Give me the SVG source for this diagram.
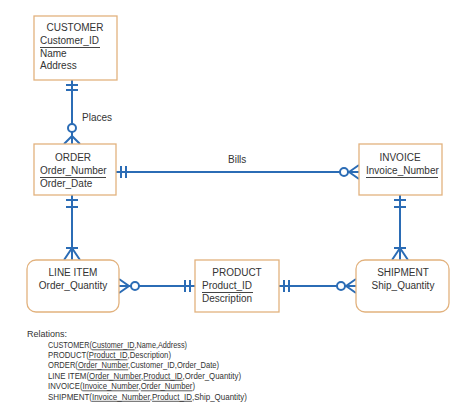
<svg xmlns="http://www.w3.org/2000/svg" width="474" height="418" viewBox="0 0 474 418">
<style>
.box{fill:#fff;stroke:#e2b27e;stroke-width:1.3}
.t{font-family:"Liberation Sans",Arial,sans-serif;font-size:10px;fill:#333}
.c{text-anchor:middle}
.ul{stroke:#444;stroke-width:1}
.ru{stroke:#333;stroke-width:0.8}
.ln{stroke:#2b6cb5;stroke-width:2;fill:none}
.o{fill:#fff;stroke:#2b6cb5;stroke-width:2}
.r{font-family:"Liberation Sans",Arial,sans-serif;font-size:9px;fill:#333}
</style>
<rect width="474" height="418" fill="#fff"/>
<g id="connectors">
<path class="ln" d="M72 80V144M66 85H78M66 90H78M72 136L64 144M72 136L80 144"/>
<circle class="o" cx="72" cy="128" r="4"/>
<text class="t" x="82" y="121">Places</text>
<path class="ln" d="M116 172H359M121 166V178M126 166V178M349 172L359 165M349 172L359 179"/>
<circle class="o" cx="344" cy="172" r="4"/>
<text class="t" x="228" y="163">Bills</text>
<path class="ln" d="M72 195V260M66 200H78M66 207H78M66 248H78M72 248L64 260M72 248L80 260"/>
<path class="ln" d="M400 195V260M394 200H406M394 207H406M394 248H406M400 248L392 260M400 248L408 260"/>
<path class="ln" d="M119 286H195M119 279L129 286L119 293M185 280V292M190 280V292"/>
<circle class="o" cx="135" cy="286" r="4"/>
<path class="ln" d="M279 286H356M284 280V292M289 280V292M346 286L356 279M346 286L356 293"/>
<circle class="o" cx="341" cy="286" r="4"/>
</g>
<g id="customer">
<rect class="box" x="34" y="16" width="83" height="64"/>
<text class="t c" x="75" y="31">CUSTOMER</text>
<text class="t" x="40" y="44">Customer_ID</text>
<line class="ul" x1="40" y1="47.5" x2="100" y2="47.5"/>
<text class="t" x="40" y="57">Name</text>
<text class="t" x="40" y="69">Address</text>
</g>
<g id="order">
<rect class="box" x="34" y="144" width="82" height="51"/>
<text class="t c" x="73" y="161">ORDER</text>
<text class="t" x="40" y="174">Order_Number</text>
<line class="ul" x1="40" y1="177.5" x2="106" y2="177.5"/>
<text class="t" x="40" y="187">Order_Date</text>
</g>
<g id="invoice">
<rect class="box" x="359" y="144" width="83" height="51"/>
<text class="t c" x="400" y="161">INVOICE</text>
<text class="t" x="366" y="174">Invoice_Number</text>
<line class="ul" x1="366" y1="177.5" x2="438" y2="177.5"/>
</g>
<g id="lineitem">
<rect class="box" x="27" y="260" width="92" height="52" rx="9"/>
<text class="t c" x="73" y="276">LINE ITEM</text>
<text class="t c" x="73" y="289">Order_Quantity</text>
</g>
<g id="product">
<rect class="box" x="195" y="260" width="84" height="52"/>
<text class="t c" x="237" y="276">PRODUCT</text>
<text class="t" x="202" y="289">Product_ID</text>
<line class="ul" x1="202" y1="292.5" x2="253" y2="292.5"/>
<text class="t" x="202" y="302">Description</text>
</g>
<g id="shipment">
<rect class="box" x="356" y="260" width="93" height="52" rx="9"/>
<text class="t c" x="403" y="276">SHIPMENT</text>
<text class="t c" x="403" y="289">Ship_Quantity</text>
</g>
<g id="relations">
<text class="r" x="27" y="337" font-size="8px">Relations:</text>
<text class="r" x="48" y="348" textLength="139" lengthAdjust="spacingAndGlyphs">CUSTOMER(Customer_ID,Name,Address)</text>
<text class="r" x="48" y="358" textLength="123" lengthAdjust="spacingAndGlyphs">PRODUCT(Product_ID,Description)</text>
<text class="r" x="48" y="368" textLength="171" lengthAdjust="spacingAndGlyphs">ORDER(Order_Number,Customer_ID,Order_Date)</text>
<text class="r" x="48" y="378.5" textLength="193" lengthAdjust="spacingAndGlyphs">LINE ITEM(Order_Number,Product_ID,Order_Quantity)</text>
<text class="r" x="48" y="389" textLength="147" lengthAdjust="spacingAndGlyphs">INVOICE(Invoice_Number,Order_Number)</text>
<text class="r" x="48" y="399.5" textLength="199" lengthAdjust="spacingAndGlyphs">SHIPMENT(Invoice_Number,Product_ID,Ship_Quantity)</text>
<path class="ru" d="M91.9 349.8H134.6M88.8 359.8H127.5M77.8 369.8H128.2M88.9 380.3H141.2M143.4 380.3H182.6M82.4 390.8H138.7M140.8 390.8H192.4M91.9 401.3H150M152.1 401.3H192"/>
</g>
</svg>
